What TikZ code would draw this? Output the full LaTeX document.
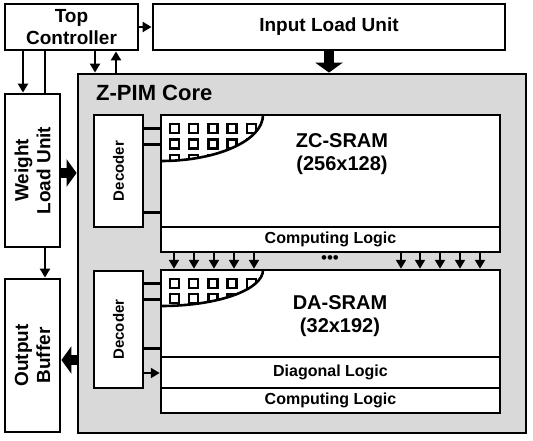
\documentclass[tikz,border=0pt]{standalone}
\usepackage{fontspec}
\setmainfont{Liberation Sans}
\usepackage{tikz}
\usetikzlibrary{arrows.meta}
\definecolor{coregray}{HTML}{D9D9D9}
\tikzset{
  unit/.style = {draw=black, fill=white, line width=2.8pt, align=center,
    inner sep=0pt, font=\bfseries\fontsize{19}{22}\selectfont},
  sub/.style = {unit, line width=2.5pt},
  logic/.style = {sub, font=\bfseries\fontsize{16}{19}\selectfont},
  dec/.style = {sub, font=\bfseries\fontsize{15}{17}\selectfont},
  wire/.style = {line width=2.6pt},
  bus/.style = {line width=3pt},
  fat/.style = {line width=10pt, -{Triangle[width=27pt,length=10pt]}},
  cell/.style = {draw=black, fill=white, line width=2.3pt}
}

\begin{document}
\begin{tikzpicture}[x=1pt,y=-1pt,>={Triangle[length=9pt,width=10pt]}]
  \useasboundingbox (0,0) rectangle (533,441);
  \node[unit, minimum width=133pt, minimum height=46pt] (tc) at (71.5,27) {Top\\Controller};
  \node[unit, minimum width=352pt, minimum height=46pt] (ilu) at (329,27) {Input Load Unit};
  \node[unit, fill=coregray, minimum width=448pt, minimum height=359pt] (core) at (302,253.5) {};
  \node[anchor=west, inner sep=0pt, font=\bfseries\fontsize{22}{25}\selectfont] (corelbl) at (96,93) {Z-PIM Core};
  \node[unit, minimum width=55pt, minimum height=153pt] (wlu) at (32.5,170.5) {};
  \node[rotate=90, align=center, font=\bfseries\fontsize{19}{22}\selectfont] at (wlu) {Weight\\Load Unit};
  \node[unit, minimum width=55pt, minimum height=153pt] (ob) at (32.5,355.5) {};
  \node[rotate=90, align=center, font=\bfseries\fontsize{19}{22}\selectfont] at (ob) {Output\\Buffer};

  \node[dec, minimum width=49pt, minimum height=112pt] (dec1) at (118.5,171) {};
  \node[rotate=90, font=\bfseries\fontsize{15}{17}\selectfont] at (dec1) {Decoder};
  \node[dec, minimum width=49pt, minimum height=117pt] (dec2) at (118.5,329.5) {};
  \node[rotate=90, font=\bfseries\fontsize{15}{17}\selectfont] at (dec2) {Decoder};

  \node[sub, minimum width=339pt, minimum height=112pt] (zc) at (330.5,171) {};
  \node[align=center, font=\bfseries\fontsize{20}{23}\selectfont] (zctxt) at (342,154) {ZC-SRAM\\(256x128)};
  \node[logic, minimum width=339pt, minimum height=25pt] (cl1) at (330.5,239.5) {Computing Logic};
  \node[sub, minimum width=339pt, minimum height=87pt] (da) at (330.5,313.5) {};
  \node[align=center, font=\bfseries\fontsize{20}{23}\selectfont] (datxt) at (340,316) {DA-SRAM\\(32x192)};
  \node[logic, minimum width=339pt, minimum height=31pt] (dl) at (330.5,372.5) {Diagonal Logic};
  \node[logic, minimum width=339pt, minimum height=25pt] (cl2) at (330.5,400.5) {Computing Logic};

  % memory cells
  \begin{scope}
    \clip (161,115) ellipse [x radius=102, y radius=46];
    \foreach \i in {0,...,4}
      \foreach \j in {0,1,2}
        \draw[cell] (170+19.2*\i,124+15.5*\j) rectangle ++(9,9);
  \end{scope}
  \draw[wire] (263,115) arc[start angle=0, end angle=90, x radius=102, y radius=46];
  \begin{scope}
    \clip (161,270) ellipse [x radius=102, y radius=36];
    \foreach \i in {0,...,4}
      \foreach \j in {0,1,2}
        \draw[cell] (170+19.2*\i,279+15*\j) rectangle ++(9,9);
  \end{scope}
  \draw[wire] (263,270) arc[start angle=0, end angle=90, x radius=102, y radius=36];

  \foreach \y in {129,145,212}
    \draw[bus] (dec1.east |- 0,\y) -- (zc.west |- 0,\y);
  \foreach \y in {283,299,348}
    \draw[bus] (dec2.east |- 0,\y) -- (da.west |- 0,\y);
  \draw[wire,->] (dec2.east |- 0,373) -- (dl.west |- 0,373);

  \foreach \x in {174,194,214,234,254,401,420,440,460,480}
    \draw[wire,->] (cl1.south -| \x,0) -- (da.north -| \x,0);
  \node[font=\fontsize{17}{19}\selectfont, inner sep=0pt] (dots) at (330,260) {\textbullet\textbullet\textbullet};

  \draw[wire,->] (tc.east) -- (ilu.west);
  \draw[wire,->] (tc.south -| 23,0) -- (wlu.north -| 23,0);
  \draw[wire] (tc.south -| 45,0) -- (wlu.north -| 45,0);
  \draw[wire,->] (tc.south -| 95,0) -- (core.north -| 95,0);
  \draw[wire,->] (core.north -| 116,0) -- (tc.south -| 116,0);
  \draw[wire,->] (wlu.south -| 45,0) -- (ob.north -| 45,0);
  \draw[fat] (ilu.south) -- (core.north -| ilu.south);
  \draw[fat] (wlu.east |- 0,173) -- (core.west |- 0,173);
  \draw[fat] (core.west |- 0,360) -- (ob.east |- 0,360);
\end{tikzpicture}
\end{document}
